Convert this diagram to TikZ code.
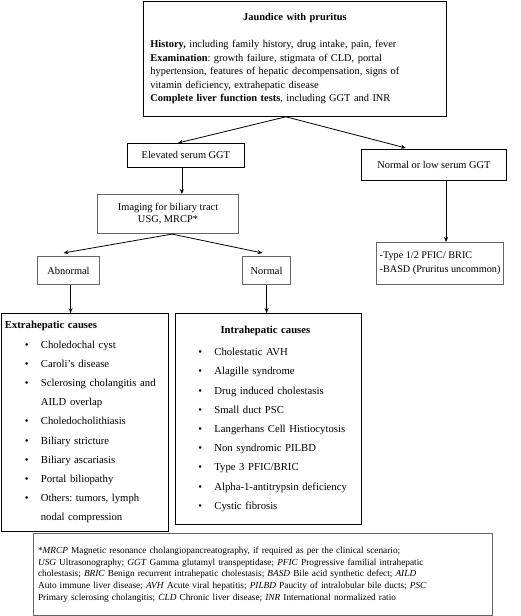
\documentclass[tikz,border=0pt]{standalone}
\usepackage{fontspec}
\setmainfont{Liberation Serif}
\usetikzlibrary{arrows.meta}
\frenchspacing

\tikzset{
  box/.style={draw=black, line width=0.8pt, inner sep=0pt, anchor=north west},
  greybox/.style={box, draw=black!60, line width=1.1pt},
  arr/.style={-{Stealth[length=5pt,width=4pt]}, line width=0.8pt}
}
\newcommand{\itm}[1]{\hspace*{20pt}\makebox[16pt][l]{\textbullet}#1}

\begin{document}
\begin{tikzpicture}[x=1pt, y=-1pt, font=\fontsize{10.4}{13.5}\selectfont]
  \useasboundingbox (0,0) rectangle (520,616);

  % Top box
  \node[box, minimum width=303pt, minimum height=115pt, text width=289pt, align=left] (jaund) at (143,1)
    {\makebox[\linewidth][c]{\textbf{Jaundice with pruritus}}\\[13.5pt]
     \textbf{History,} including family history, drug intake, pain, fever\\
     \textbf{Examination}: growth failure, stigmata of CLD, portal\\
     hypertension, features of hepatic decompensation, signs of\\
     vitamin deficiency, extrahepatic disease\\
     \textbf{Complete liver function tests}, including GGT and INR\par\vspace{9pt}};

  % GGT split
  \node[box, minimum width=117pt, minimum height=24pt] (elev) at (127,143) {Elevated serum GGT};
  \node[box, minimum width=145pt, minimum height=31pt] (normlow) at (361,149) {Normal or low serum GGT};
  \draw[arr] ([xshift=-9pt]jaund.south) -- ([xshift=-8pt]elev.north);
  \draw[arr] ([xshift=-9pt]jaund.south) -- ([xshift=-28pt, yshift=1pt]normlow.north);

  % Imaging
  \node[greybox, minimum width=141pt, minimum height=39pt, align=center,
        font=\fontsize{10.4}{12}\selectfont] (imaging) at (97,194)
    {Imaging for biliary tract\\USG, MRCP*};
  \draw[arr] ([xshift=-4pt]elev.south) -- ([xshift=-4pt]elev.south |- imaging.north);

  % Low GGT causes
  \node[greybox, minimum width=127pt, minimum height=42pt, inner xsep=3pt, align=left,
        font=\fontsize{10.2}{14}\selectfont] (type) at (376,242)
    {-Type 1/2 PFIC/ BRIC\\-BASD (Pruritus uncommon)};
  \draw[arr] ([xshift=6pt]type.north |- normlow.south) -- ([xshift=6pt]type.north);

  % Imaging result
  \node[greybox, minimum width=62pt, minimum height=28pt] (abn) at (37,256) {Abnormal};
  \node[greybox, minimum width=48pt, minimum height=28pt] (norm) at (242,256) {Normal};
  \draw[arr] ([xshift=4pt]imaging.south) -- ([xshift=-5pt, yshift=3pt]abn.north);
  \draw[arr] ([xshift=4pt]imaging.south) -- ([xshift=-4pt, yshift=3pt]norm.north);

  % Extrahepatic causes
  \node[box, minimum width=167pt, minimum height=218pt, text width=160pt, align=left,
        font=\fontsize{10.7}{19.2}\selectfont] (extra) at (1,313)
    {\textbf{Extrahepatic causes}\\
     \itm{Choledochal cyst}\\
     \itm{Caroli’s disease}\\
     \itm{Sclerosing cholangitis and}\\
     \hspace*{36pt}AILD overlap\\
     \itm{Choledocholithiasis}\\
     \itm{Biliary stricture}\\
     \itm{Biliary ascariasis}\\
     \itm{Portal biliopathy}\\
     \itm{Others: tumors, lymph}\\
     \hspace*{36pt}nodal compression};
  \draw[arr] ([xshift=2pt]abn.south) -- ([xshift=2pt]abn.south |- extra.north);

  % Intrahepatic causes
  \node[box, minimum width=186pt, minimum height=211pt, text width=180pt, align=left,
        font=\fontsize{10.7}{19.2}\selectfont] (intra) at (175,313)
    {\makebox[174pt][c]{\textbf{Intrahepatic causes}}\\[3pt]
     \itm{Cholestatic AVH}\\
     \itm{Alagille syndrome}\\
     \itm{Drug induced cholestasis}\\
     \itm{Small duct PSC}\\
     \itm{Langerhans Cell Histiocytosis}\\
     \itm{Non syndromic PILBD}\\
     \itm{Type 3 PFIC/BRIC}\\
     \itm{Alpha-1-antitrypsin deficiency}\\
     \itm{Cystic fibrosis}\par\vspace{14pt}};
  \draw[arr] (norm.south) -- (norm.south |- intra.north);

  % Abbreviations
  \node[greybox, minimum width=459pt, minimum height=82pt, text width=450pt, align=left,
        font=\fontsize{9.3}{11.8}\selectfont] (foot) at (33,533)
    {*\textit{MRCP} Magnetic resonance cholangiopancreatography, if required as per the clinical scenario;\\
     \textit{USG} Ultrasonography; \textit{GGT} Gamma glutamyl transpeptidase; \textit{PFIC} Progressive familial intrahepatic\\
     cholestasis; \textit{BRIC} Benign recurrent intrahepatic cholestasis; \textit{BASD} Bile acid synthetic defect; \textit{AILD}\\
     Auto immune liver disease; \textit{AVH} Acute viral hepatitis; \textit{PILBD} Paucity of intralobular bile ducts; \textit{PSC}\\
     Primary sclerosing cholangitis; \textit{CLD} Chronic liver disease; \textit{INR} International normalized ratio\par\vspace{10pt}};
\end{tikzpicture}
\end{document}
